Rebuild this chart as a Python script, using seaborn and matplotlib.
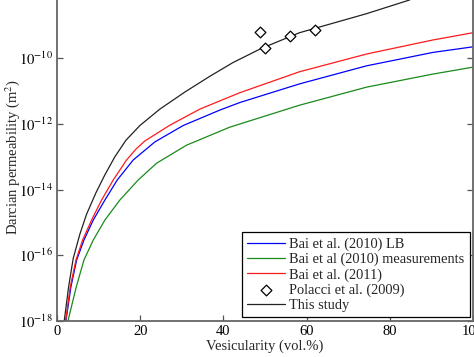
import matplotlib
matplotlib.use("Agg")
import numpy as np
import pandas as pd
import matplotlib.pyplot as plt
import seaborn as sns

# ---- data (x = vesicularity %, y = log10 permeability m^2) ----
lb_x = [2.15, 3.36, 4.72, 6.48, 8.72, 11.52, 14.48, 18.32, 23.52, 30.32, 39.12, 43.92, 58.3, 74.4,
        90.4, 100]
lb_logk = [-18.0, -16.96, -16.15, -15.54, -14.93, -14.32, -13.71, -13.10, -12.55, -12.05, -11.58,
           -11.35, -10.78, -10.23, -9.82, -9.65]

meas_x = [2.65, 4.65, 6.48, 8.72, 11.52, 15.12, 19.52, 23.92, 31.12, 41.52, 58.3, 74.4, 90.4, 100]
meas_logk = [-18.0, -16.96, -16.15, -15.54, -14.93, -14.32, -13.71, -13.2, -12.65, -12.1, -11.43,
             -10.88, -10.48, -10.27]

b11_x = [2.08, 3.2, 4.56, 6.16, 8.32, 10.72, 13.52, 16.72, 18.96, 21.12, 27.12, 34.32, 43.92, 58.3,
         74.4, 90.4, 100]
b11_logk = [-18.0, -16.96, -16.15, -15.54, -14.93, -14.32, -13.71, -13.10, -12.77, -12.52, -12.04,
            -11.55, -11.05, -10.41, -9.87, -9.44, -9.22]

study_x = [1.75, 2.8, 3.9, 5.5, 7.12, 9.36, 11.52, 13.92, 16.56, 19.92, 24.72, 30.72, 36.72, 42.3,
           49.1, 58.3, 74.4, 84.8]
study_logk = [-18.0, -16.96, -16.1, -15.36, -14.75, -14.10, -13.55, -13.0, -12.5, -12.05, -11.55,
              -11.03, -10.55, -10.13, -9.70, -9.22, -8.64, -8.22]

pol_x = [48.9, 49.9, 55.9, 61.9]
pol_logk = [-9.19, -9.68, -9.32, -9.14]

y_exps = [-18, -16, -14, -12, -10]
x_ticks = [0, 20, 40, 60, 80, 100]

labels = ["Bai et al. (2010) LB", "Bai et al (2010) measurements", "Bai et al. (2011)",
          "Polacci et al. (2009)", "This study"]

# ---- style ----
sns.set_style("ticks")
plt.rcParams["font.family"] = ["Liberation Serif", "DejaVu Serif"]
plt.rcParams["mathtext.fontset"] = "stix"

fig = plt.figure(figsize=(4.74, 3.57), dpi=100)
ax = fig.add_axes([57 / 474, 36.3 / 357, 416 / 474, 328 / 357])

def df(x, lk):
    return pd.DataFrame({"x": x, "k": np.power(10.0, lk)})

sns.lineplot(data=df(lb_x, lb_logk), x="x", y="k", ax=ax, color="#0000ff", lw=0.9, label=labels[0])
sns.lineplot(data=df(meas_x, meas_logk), x="x", y="k", ax=ax, color="#1a8a1a", lw=0.9, label=labels[1])
sns.lineplot(data=df(b11_x, b11_logk), x="x", y="k", ax=ax, color="#ff1a1a", lw=0.9, label=labels[2])
sns.lineplot(data=df(study_x, study_logk), x="x", y="k", ax=ax, color="#222222", lw=0.9, label=labels[4])
sns.scatterplot(data=df(pol_x, pol_logk), x="x", y="k", ax=ax, marker="D", s=30,
                facecolor="white", edgecolor="black", linewidth=0.9, label=labels[3], zorder=5)

ax.set_yscale("log")
ax.set_xlim(0, 100)
ax.set_ylim(1e-18, 1e-8)
ax.set_xticks(x_ticks)
ax.set_xticklabels([str(t) for t in x_ticks])
ax.set_yticks([10.0 ** e for e in y_exps])
ax.set_yticklabels([f"$10^{{{e}}}$" for e in y_exps])
ax.yaxis.set_minor_locator(matplotlib.ticker.NullLocator())
ax.tick_params(direction="in", which="both", right=True, top=True, length=4, width=0.9,
               color="#555555", labelsize=10.5, pad=3, labelcolor="black")
for sp in ax.spines.values():
    sp.set_color("#666666")
    sp.set_linewidth(1.3)
    sp.set_visible(True)

ax.set_xlabel("Vesicularity (vol.%)", fontsize=10.5, labelpad=1)
ax.set_ylabel("Darcian permeability (m$^2$)", fontsize=10.5, labelpad=-2)

h, l = ax.get_legend_handles_labels()
order = [l.index(t) for t in labels]
leg = ax.legend([h[i] for i in order], [l[i] for i in order], loc="lower right",
                bbox_to_anchor=(0.993, 0.011), fontsize=10.4, frameon=True, fancybox=False,
                framealpha=1, edgecolor="black", labelspacing=0.12, handlelength=2.6,
                handletextpad=0.3, borderpad=0.38, borderaxespad=0)
leg.get_frame().set_linewidth(0.9)

fig.savefig("out.png", dpi=100)
